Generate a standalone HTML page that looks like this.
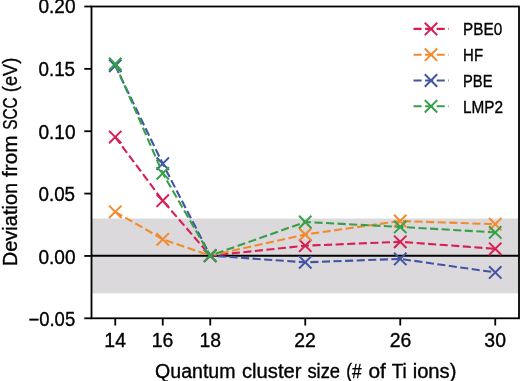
<!DOCTYPE html>
<html><head><meta charset="utf-8"><title>Deviation from SCC</title>
<style>
html,body{margin:0;padding:0;background:#fff;overflow:hidden;}
svg{display:block;font-family:"Liberation Sans", "DejaVu Sans", sans-serif;}
text{fill:#000;stroke:#000;stroke-width:0.35px;}
</style></head><body>
<svg width="520" height="381" viewBox="0 0 520 381">
<rect x="0" y="0" width="520" height="381" fill="#ffffff"/>
<rect x="91.5" y="218.52" width="427.5" height="74.83" fill="#dbd9db"/>
<line x1="91.5" x2="519.0" y1="255.65" y2="255.65" stroke="#000" stroke-width="2.0"/>
<polyline points="115.25,137.10 162.75,200.70 210.25,255.65 305.25,245.70 400.25,241.80 495.25,248.80" fill="none" stroke="#d81f55" stroke-width="2.1" stroke-dasharray="8.1,3.48" stroke-dashoffset="0" stroke-linejoin="round"/>
<path d="M109.05,130.90L121.45,143.30M109.05,143.30L121.45,130.90" stroke="#d81f55" stroke-width="2.0" fill="none"/>
<path d="M156.55,194.50L168.95,206.90M156.55,206.90L168.95,194.50" stroke="#d81f55" stroke-width="2.0" fill="none"/>
<path d="M204.05,249.45L216.45,261.85M204.05,261.85L216.45,249.45" stroke="#d81f55" stroke-width="2.0" fill="none"/>
<path d="M299.05,239.50L311.45,251.90M299.05,251.90L311.45,239.50" stroke="#d81f55" stroke-width="2.0" fill="none"/>
<path d="M394.05,235.60L406.45,248.00M394.05,248.00L406.45,235.60" stroke="#d81f55" stroke-width="2.0" fill="none"/>
<path d="M489.05,242.60L501.45,255.00M489.05,255.00L501.45,242.60" stroke="#d81f55" stroke-width="2.0" fill="none"/>
<polyline points="115.25,211.80 162.75,239.30 210.25,255.65 305.25,234.50 400.25,221.00 495.25,224.20" fill="none" stroke="#f28a2e" stroke-width="2.1" stroke-dasharray="8.1,3.48" stroke-dashoffset="0" stroke-linejoin="round"/>
<path d="M109.05,205.60L121.45,218.00M109.05,218.00L121.45,205.60" stroke="#f28a2e" stroke-width="2.0" fill="none"/>
<path d="M156.55,233.10L168.95,245.50M156.55,245.50L168.95,233.10" stroke="#f28a2e" stroke-width="2.0" fill="none"/>
<path d="M204.05,249.45L216.45,261.85M204.05,261.85L216.45,249.45" stroke="#f28a2e" stroke-width="2.0" fill="none"/>
<path d="M299.05,228.30L311.45,240.70M299.05,240.70L311.45,228.30" stroke="#f28a2e" stroke-width="2.0" fill="none"/>
<path d="M394.05,214.80L406.45,227.20M394.05,227.20L406.45,214.80" stroke="#f28a2e" stroke-width="2.0" fill="none"/>
<path d="M489.05,218.00L501.45,230.40M489.05,230.40L501.45,218.00" stroke="#f28a2e" stroke-width="2.0" fill="none"/>
<polyline points="115.25,65.80 162.75,163.70 210.25,255.65 305.25,262.30 400.25,258.90 495.25,272.40" fill="none" stroke="#4254a4" stroke-width="2.1" stroke-dasharray="8.1,3.48" stroke-dashoffset="0" stroke-linejoin="round"/>
<path d="M109.05,59.60L121.45,72.00M109.05,72.00L121.45,59.60" stroke="#4254a4" stroke-width="2.0" fill="none"/>
<path d="M156.55,157.50L168.95,169.90M156.55,169.90L168.95,157.50" stroke="#4254a4" stroke-width="2.0" fill="none"/>
<path d="M204.05,249.45L216.45,261.85M204.05,261.85L216.45,249.45" stroke="#4254a4" stroke-width="2.0" fill="none"/>
<path d="M299.05,256.10L311.45,268.50M299.05,268.50L311.45,256.10" stroke="#4254a4" stroke-width="2.0" fill="none"/>
<path d="M394.05,252.70L406.45,265.10M394.05,265.10L406.45,252.70" stroke="#4254a4" stroke-width="2.0" fill="none"/>
<path d="M489.05,266.20L501.45,278.60M489.05,278.60L501.45,266.20" stroke="#4254a4" stroke-width="2.0" fill="none"/>
<polyline points="115.25,64.00 162.75,173.30 210.25,255.65 305.25,222.00 400.25,226.90 495.25,232.40" fill="none" stroke="#36a048" stroke-width="2.1" stroke-dasharray="8.1,3.48" stroke-dashoffset="0" stroke-linejoin="round"/>
<path d="M109.05,57.80L121.45,70.20M109.05,70.20L121.45,57.80" stroke="#36a048" stroke-width="2.0" fill="none"/>
<path d="M156.55,167.10L168.95,179.50M156.55,179.50L168.95,167.10" stroke="#36a048" stroke-width="2.0" fill="none"/>
<path d="M204.05,249.45L216.45,261.85M204.05,261.85L216.45,249.45" stroke="#36a048" stroke-width="2.0" fill="none"/>
<path d="M299.05,215.80L311.45,228.20M299.05,228.20L311.45,215.80" stroke="#36a048" stroke-width="2.0" fill="none"/>
<path d="M394.05,220.70L406.45,233.10M394.05,233.10L406.45,220.70" stroke="#36a048" stroke-width="2.0" fill="none"/>
<path d="M489.05,226.20L501.45,238.60M489.05,238.60L501.45,226.20" stroke="#36a048" stroke-width="2.0" fill="none"/>
<rect x="91.5" y="6.5" width="427.5" height="311.8" fill="none" stroke="#000" stroke-width="1.8"/>
<line x1="84.30" x2="91.5" y1="6.50" y2="6.50" stroke="#000" stroke-width="1.8"/>
<line x1="84.30" x2="91.5" y1="68.86" y2="68.86" stroke="#000" stroke-width="1.8"/>
<line x1="84.30" x2="91.5" y1="131.22" y2="131.22" stroke="#000" stroke-width="1.8"/>
<line x1="84.30" x2="91.5" y1="193.58" y2="193.58" stroke="#000" stroke-width="1.8"/>
<line x1="84.30" x2="91.5" y1="255.94" y2="255.94" stroke="#000" stroke-width="1.8"/>
<line x1="84.30" x2="91.5" y1="318.30" y2="318.30" stroke="#000" stroke-width="1.8"/>
<line x1="115.25" x2="115.25" y1="318.3" y2="325.50" stroke="#000" stroke-width="1.8"/>
<line x1="162.75" x2="162.75" y1="318.3" y2="325.50" stroke="#000" stroke-width="1.8"/>
<line x1="210.25" x2="210.25" y1="318.3" y2="325.50" stroke="#000" stroke-width="1.8"/>
<line x1="305.25" x2="305.25" y1="318.3" y2="325.50" stroke="#000" stroke-width="1.8"/>
<line x1="400.25" x2="400.25" y1="318.3" y2="325.50" stroke="#000" stroke-width="1.8"/>
<line x1="495.25" x2="495.25" y1="318.3" y2="325.50" stroke="#000" stroke-width="1.8"/>
<text x="38.41" y="13.48" font-size="19.4" textLength="37.10" lengthAdjust="spacingAndGlyphs">0.20</text>
<text x="38.49" y="76.35" font-size="19.4" textLength="36.60" lengthAdjust="spacingAndGlyphs">0.15</text>
<text x="38.41" y="138.70" font-size="19.4" textLength="37.10" lengthAdjust="spacingAndGlyphs">0.10</text>
<text x="38.49" y="201.07" font-size="19.4" textLength="36.60" lengthAdjust="spacingAndGlyphs">0.05</text>
<text x="38.41" y="264.28" font-size="19.4" textLength="37.10" lengthAdjust="spacingAndGlyphs">0.00</text>
<text x="28.44" y="325.79" font-size="19.4" textLength="46.73" lengthAdjust="spacingAndGlyphs">−0.05</text>
<text x="104.35" y="347.20" font-size="19.4">14</text>
<text x="151.66" y="347.20" font-size="19.4">16</text>
<text x="199.40" y="347.20" font-size="19.4">18</text>
<text x="294.22" y="347.10" font-size="19.4">22</text>
<text x="389.64" y="347.06" font-size="19.4">26</text>
<text x="484.35" y="347.22" font-size="19.4">30</text>
<text x="155.14" y="378.40" font-size="19.4" textLength="80.37" lengthAdjust="spacingAndGlyphs">Quantum</text>
<text x="241.95" y="378.40" font-size="19.4" textLength="59.56" lengthAdjust="spacingAndGlyphs">cluster</text>
<text x="307.41" y="378.40" font-size="19.4" textLength="32.63" lengthAdjust="spacingAndGlyphs">size</text>
<text x="346.36" y="378.40" font-size="19.4" textLength="15.31" lengthAdjust="spacingAndGlyphs">(#</text>
<text x="368.42" y="378.40" font-size="19.4" textLength="17.42" lengthAdjust="spacingAndGlyphs">of</text>
<text x="391.63" y="378.40" font-size="19.4" textLength="14.95" lengthAdjust="spacingAndGlyphs">Ti</text>
<text x="412.66" y="378.40" font-size="19.4" textLength="43.76" lengthAdjust="spacingAndGlyphs">ions)</text>
<text x="463.05" y="35.08" font-size="17.2" textLength="39.09" lengthAdjust="spacingAndGlyphs">PBE0</text>
<text x="463.12" y="61.36" font-size="17.2" textLength="19.92" lengthAdjust="spacingAndGlyphs">HF</text>
<text x="463.07" y="87.18" font-size="17.2" textLength="29.42" lengthAdjust="spacingAndGlyphs">PBE</text>
<text x="463.06" y="112.88" font-size="17.2" textLength="40.11" lengthAdjust="spacingAndGlyphs">LMP2</text>
<text transform="translate(17.00,266.24) rotate(-90)" x="0" y="0" font-size="19.4" textLength="83.46" lengthAdjust="spacingAndGlyphs">Deviation</text>
<text transform="translate(17.00,176.99) rotate(-90)" x="0" y="0" font-size="19.4" textLength="41.43" lengthAdjust="spacingAndGlyphs">from</text>
<text transform="translate(17.00,129.80) rotate(-90)" x="0" y="0" font-size="19.4" textLength="32.43" lengthAdjust="spacingAndGlyphs">SCC</text>
<text transform="translate(17.00,92.21) rotate(-90)" x="0" y="0" font-size="19.4" textLength="34.53" lengthAdjust="spacingAndGlyphs">(eV)</text>
<line x1="413.5" x2="448.8" y1="28.9" y2="28.9" stroke="#d81f55" stroke-width="2.1" stroke-dasharray="8.1,3.48"/>
<path d="M424.80,22.70L437.20,35.10M424.80,35.10L437.20,22.70" stroke="#d81f55" stroke-width="2.0" fill="none"/>
<line x1="413.5" x2="448.8" y1="54.7" y2="54.7" stroke="#f28a2e" stroke-width="2.1" stroke-dasharray="8.1,3.48"/>
<path d="M424.80,48.50L437.20,60.90M424.80,60.90L437.20,48.50" stroke="#f28a2e" stroke-width="2.0" fill="none"/>
<line x1="413.5" x2="448.8" y1="80.5" y2="80.5" stroke="#4254a4" stroke-width="2.1" stroke-dasharray="8.1,3.48"/>
<path d="M424.80,74.30L437.20,86.70M424.80,86.70L437.20,74.30" stroke="#4254a4" stroke-width="2.0" fill="none"/>
<line x1="413.5" x2="448.8" y1="106.3" y2="106.3" stroke="#36a048" stroke-width="2.1" stroke-dasharray="8.1,3.48"/>
<path d="M424.80,100.10L437.20,112.50M424.80,112.50L437.20,100.10" stroke="#36a048" stroke-width="2.0" fill="none"/>
</svg>
</body></html>
